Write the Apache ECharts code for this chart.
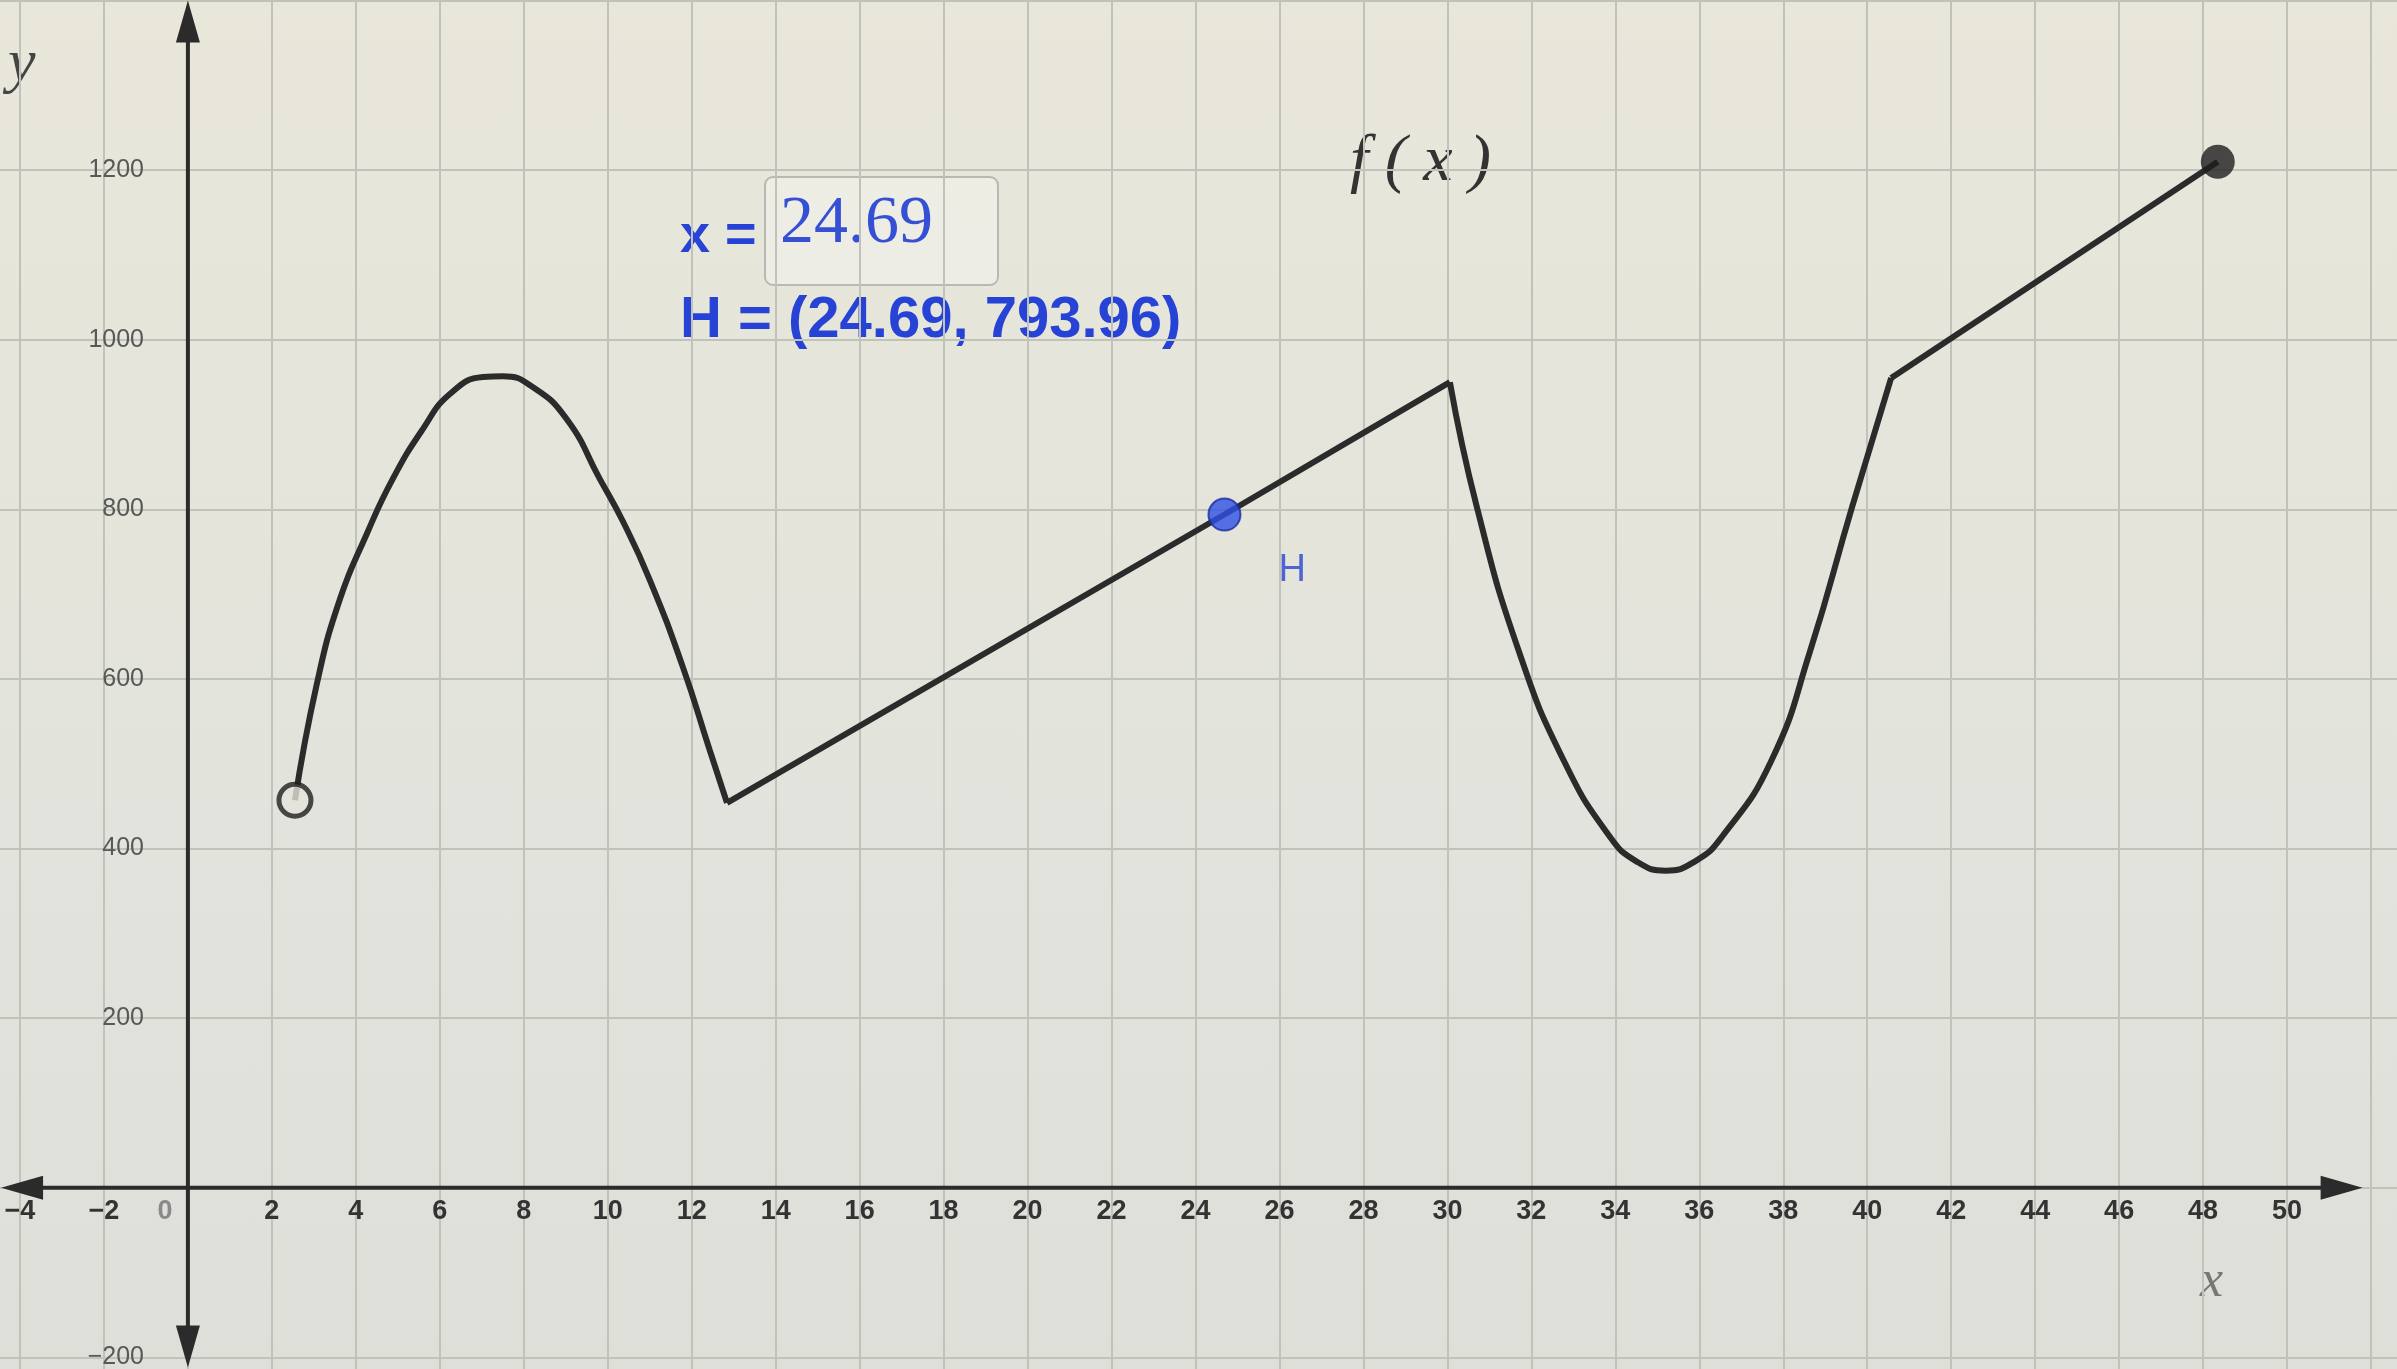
<!DOCTYPE html>
<html>
<head>
<meta charset="utf-8">
<title>f(x)</title>
<script src="https://cdn.jsdelivr.net/npm/echarts@6/dist/echarts.min.js"></script>
<style>
  html, body { margin: 0; padding: 0; }
  body { background: linear-gradient(#e9e7da, #e2e3dc 60%, #dedfd8); }
  #main { width: 2397px; height: 1369px; }
</style>
</head>
<body>
<div id="main"></div>
<script>
// points, [x, f(x)]
const humpPts = [[2.55, 457], [3.07, 594], [3.62, 694], [4.26, 771], [4.88, 836], [5.6, 895], [6.24, 936], [7.03, 956], [7.5, 957], [8.22, 944], [9.03, 906], [9.81, 836], [10.36, 786], [11.0, 717], [11.79, 614], [12.43, 516], [12.84, 454]];
const rampPts = [[12.84, 454], [24.69, 793.96], [30.06, 950]];
const valleyPts = [[30.06, 950], [30.7, 803], [31.7, 633], [32.78, 503], [33.87, 414], [34.5, 385], [35.2, 374], [35.9, 385], [36.54, 414], [37.71, 503], [38.64, 633], [39.64, 803], [40.57, 955]];
const tailPts = [[40.57, 955], [48.35, 1210]];
const openEnd = [2.55, 457];
const closedEnd = [48.35, 1210];
const pointH = [24.69, 793.96];

// tick labels
const xTickLabels = [-4, -2, 0, 2, 4, 6, 8, 10, 12, 14, 16, 18, 20, 22, 24, 26, 28, 30, 32, 34, 36, 38, 40, 42, 44, 46, 48, 50];
const yTickLabels = [-200, 200, 400, 600, 800, 1000, 1200];
// where the drawn axes end (arrow tips)
const xAxisEnds = [-4.45, 51.8];
const yAxisEnds = [-212, 1400];

const lineColor = "#2b2b2b";
const blue = "#2743d6";

// grid box, picked so that x=0 / y=0 land where the picture has them
const gridLeft = -64, gridBottom = -158;
const originPx = [188, 1188];

function minus(v) {
  return v < 0 ? "\u2212" + Math.abs(v) : String(v);
}

function curve(data, smooth) {
  return {
    type: "line",
    data: data,
    smooth: smooth,
    showSymbol: false,
    symbol: "none",
    lineStyle: { color: lineColor, width: 6 },
    z: 3
  };
}

const chart = echarts.init(document.getElementById("main"));

const option = {
  backgroundColor: "transparent",
  animation: false,
  grid: {
    left: gridLeft,
    right: -58,
    top: -169,
    bottom: gridBottom,
    containLabel: false,
    outerBoundsMode: "none"
  },
  xAxis: {
    type: "value",
    min: -6,
    max: 54,
    interval: 2,
    position: "bottom",
    // move the axis (and its labels) up to y = 0
    offset: originPx[1] - (1369 - gridBottom),
    axisLine: { show: false, onZero: false },
    axisTick: { show: false },
    splitLine: { show: true, lineStyle: { color: "#c1c2b9", width: 2 } },
    axisLabel: {
      show: true,
      margin: 10,
      fontFamily: "Liberation Sans",
      fontSize: 27,
      fontWeight: "bold",
      color: "#333",
      formatter: function (v) {
        if (xTickLabels.indexOf(v) < 0) return "";
        if (v === 0) return "{z|0}";
        return minus(v);
      },
      rich: {
        z: { padding: [0, 46, 0, 0], fontFamily: "Liberation Sans", fontSize: 27, color: "#8a8a8a" }
      }
    }
  },
  yAxis: {
    type: "value",
    min: -400,
    max: 1600,
    interval: 200,
    position: "left",
    // move the axis (and its labels) right to x = 0
    offset: gridLeft - originPx[0],
    axisLine: { show: false, onZero: false },
    axisTick: { show: false },
    splitLine: { show: true, lineStyle: { color: "#c1c2b9", width: 2 } },
    axisLabel: {
      show: true,
      margin: 44,
      fontFamily: "Liberation Sans",
      fontSize: 25,
      color: "#585858",
      formatter: function (v) {
        return yTickLabels.indexOf(v) < 0 ? "" : minus(v);
      }
    }
  },
  series: [
    curve(humpPts, 0.5),
    curve(rampPts, false),
    curve(valleyPts, 0.5),
    curve(tailPts, false),
    {
      // open end point
      type: "scatter",
      data: [openEnd],
      symbolSize: 32,
      itemStyle: { color: "#e5e4da", borderColor: "#1e1e1e", borderWidth: 5 },
      z: 5
    },
    {
      // closed end point
      type: "scatter",
      data: [closedEnd],
      symbolSize: 34,
      itemStyle: { color: "#1e1e1e" },
      z: 5
    },
    {
      // point H
      type: "scatter",
      data: [pointH],
      symbolSize: 32,
      itemStyle: { color: "#2f50e6", borderColor: "#1a2c9c", borderWidth: 2 },
      label: {
        show: true,
        formatter: "H",
        position: "right",
        offset: [32, 56],
        fontFamily: "Liberation Sans",
        fontSize: 38,
        color: blue
      },
      z: 6
    }
  ],
  graphic: [
    // axis names
    { type: "text", left: 8, top: 34, style: { text: "y", font: "italic 62px 'Liberation Serif'", fill: "#444" } },
    { type: "text", left: 2200, top: 1256, style: { text: "x", font: "italic 52px 'Liberation Serif'", fill: "#777" } },
    // f(x) label
    { type: "text", left: 1350, top: 130, style: { text: "f ( x )", font: "italic 66px 'Liberation Serif'", fill: "#333" } },
    // input box x = 24.69
    {
      type: "rect",
      left: 764,
      top: 176,
      shape: { width: 233, height: 108, r: 8 },
      style: { fill: "rgba(244,243,236,0.55)", stroke: "#b9b9b1", lineWidth: 2 }
    },
    { type: "text", left: 680, top: 210, style: { text: "x =", font: "bold 54px 'Liberation Sans'", fill: blue } },
    { type: "text", left: 780, top: 190, style: { text: "24.69", font: "68px 'Liberation Serif'", fill: "#3550d4" } },
    { type: "text", left: 680, top: 292, style: { text: "H = (24.69, 793.96)", font: "bold 58px 'Liberation Sans'", fill: blue } }
  ]
};

chart.setOption(option);

// axes with arrow heads, placed through the chart's own scales
function px(x, y) {
  return chart.convertToPixel({ gridIndex: 0 }, [x, y]);
}
const xa = px(xAxisEnds[0], 0), xb = px(xAxisEnds[1], 0);
const ya = px(0, yAxisEnds[0]), yb = px(0, yAxisEnds[1]);
const L = 42, W = 12;
chart.setOption({
  graphic: option.graphic.concat([
    { type: "line", shape: { x1: xa[0] + 10, y1: xa[1], x2: xb[0] - 10, y2: xb[1] }, style: { stroke: lineColor, lineWidth: 4 }, z: 2 },
    { type: "line", shape: { x1: ya[0], y1: ya[1] - 10, x2: yb[0], y2: yb[1] + 10 }, style: { stroke: lineColor, lineWidth: 4 }, z: 2 },
    { type: "polygon", shape: { points: [[xa[0], xa[1]], [xa[0] + L, xa[1] - W], [xa[0] + L, xa[1] + W]] }, style: { fill: lineColor }, z: 2 },
    { type: "polygon", shape: { points: [[xb[0], xb[1]], [xb[0] - L, xb[1] - W], [xb[0] - L, xb[1] + W]] }, style: { fill: lineColor }, z: 2 },
    { type: "polygon", shape: { points: [[yb[0], yb[1]], [yb[0] - W, yb[1] + L], [yb[0] + W, yb[1] + L]] }, style: { fill: lineColor }, z: 2 },
    { type: "polygon", shape: { points: [[ya[0], ya[1]], [ya[0] - W, ya[1] - L], [ya[0] + W, ya[1] - L]] }, style: { fill: lineColor }, z: 2 }
  ])
});
</script>
</body>
</html>
